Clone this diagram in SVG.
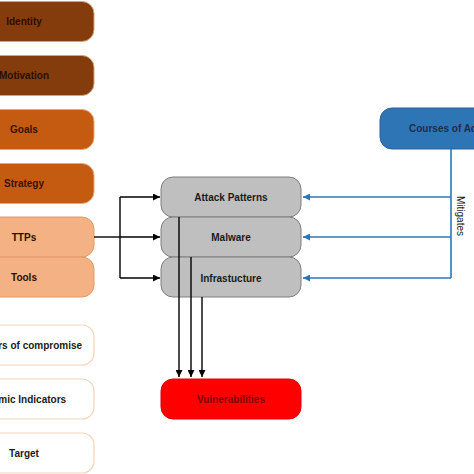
<svg xmlns="http://www.w3.org/2000/svg" width="474" height="474" viewBox="0 0 474 474">
<defs>
<style>
text{font-family:"Liberation Sans",Arial,sans-serif;font-size:10px;font-weight:bold;text-anchor:middle;dominant-baseline:central}
.dark rect{fill:#843C0C;stroke:#D9A27A;stroke-width:1}
.dark text{fill:#2A1000}
.mid rect{fill:#C55A11;stroke:#E8A878;stroke-width:1}
.mid text{fill:#3A1300}
.light rect{fill:#F4B183;stroke:#E09A6A;stroke-width:1}
.light text{fill:#2A1000}
.white rect{fill:#FFFFFF;stroke:#F3D3BC;stroke-width:1.2}
.white text{fill:#1A1A1A}
.gray rect{fill:#BFBFBF;stroke:#7F7F7F;stroke-width:1}
.gray text{fill:#1A1A1A}
.red rect{fill:#FF0000;stroke:#E00000;stroke-width:1}
.red text{fill:#7A0000}
.blue rect{fill:#2E75B6;stroke:#2F5F99;stroke-width:1}
.blue text{fill:#1F2D4A;text-anchor:start}
.k{stroke:#000;stroke-width:1.4;fill:none}
.b{stroke:#2E75B6;stroke-width:1.6;fill:none}
</style>
<marker id="ak" viewBox="0 0 10 10" refX="10" refY="5" markerWidth="7" markerHeight="7" markerUnits="userSpaceOnUse" orient="auto"><path d="M0,0 L10,5 L0,10 z" fill="#000"/></marker>
<marker id="ab" viewBox="0 0 10 10" refX="10" refY="5" markerWidth="7" markerHeight="7" markerUnits="userSpaceOnUse" orient="auto"><path d="M0,0 L10,5 L0,10 z" fill="#2E75B6"/></marker>
</defs>
<rect width="474" height="474" fill="#fff"/>
<g id="identity" class="dark"><rect x="-46" y="1.5" width="140" height="40" rx="12"/><text x="24" y="21.5">Identity</text></g>
<g id="motivation" class="dark"><rect x="-46" y="55.5" width="140" height="40" rx="12"/><text x="24" y="75.5">Motivation</text></g>
<g id="goals" class="mid"><rect x="-46" y="109.5" width="140" height="40" rx="12"/><text x="24" y="129.5">Goals</text></g>
<g id="strategy" class="mid"><rect x="-46" y="163.5" width="140" height="40" rx="12"/><text x="24" y="183.5">Strategy</text></g>
<g id="ttps" class="light"><rect x="-46" y="217" width="140" height="40" rx="12"/><text x="24" y="237">TTPs</text></g>
<g id="tools" class="light"><rect x="-46" y="257" width="140" height="40" rx="12"/><text x="24" y="277">Tools</text></g>
<g id="ioc" class="white"><rect x="-46" y="325" width="140" height="40" rx="12"/><text x="21" y="345">Indicators of compromise</text></g>
<g id="dynamic" class="white"><rect x="-46" y="379" width="140" height="40" rx="12"/><text x="20" y="399">Dynamic Indicators</text></g>
<g id="target" class="white"><rect x="-46" y="433" width="140" height="40" rx="12"/><text x="24" y="453">Target</text></g>
<g id="attack-patterns" class="gray"><rect x="161" y="177" width="140" height="40" rx="12"/><text x="231" y="197">Attack Patterns</text></g>
<g id="malware" class="gray"><rect x="161" y="217" width="140" height="40" rx="12"/><text x="231" y="237">Malware</text></g>
<g id="infrastucture" class="gray"><rect x="161" y="257" width="140" height="40" rx="12"/><text x="231" y="278">Infrastucture</text></g>
<g id="vulnerabilities" class="red"><rect x="161" y="379" width="140" height="40" rx="12"/><text x="231" y="399">Vulnerabilities</text></g>
<g id="courses-of-action" class="blue"><rect x="380" y="108" width="140" height="41" rx="12"/><text x="409" y="128.5">Courses of Action</text></g>
<g id="connectors">
<path class="k" d="M94,237 H120"/>
<path class="k" d="M120,197 V278"/>
<path class="k" d="M120,197 H160" marker-end="url(#ak)"/>
<path class="k" d="M120,237 H160" marker-end="url(#ak)"/>
<path class="k" d="M120,278 H160" marker-end="url(#ak)"/>
<path class="k" d="M179,217 V377" marker-end="url(#ak)"/>
<path class="k" d="M191,257 V377" marker-end="url(#ak)"/>
<path class="k" d="M202,297 V377" marker-end="url(#ak)"/>
<path class="b" d="M451,149 V278"/>
<path class="b" d="M451,197 H303" marker-end="url(#ab)"/>
<path class="b" d="M451,237 H303" marker-end="url(#ab)"/>
<path class="b" d="M451,278 H303" marker-end="url(#ab)"/>
<text x="460" y="216" transform="rotate(90 460 216)" style="font-weight:normal;fill:#1A1A1A">Mitigates</text>
</g>
</svg>
